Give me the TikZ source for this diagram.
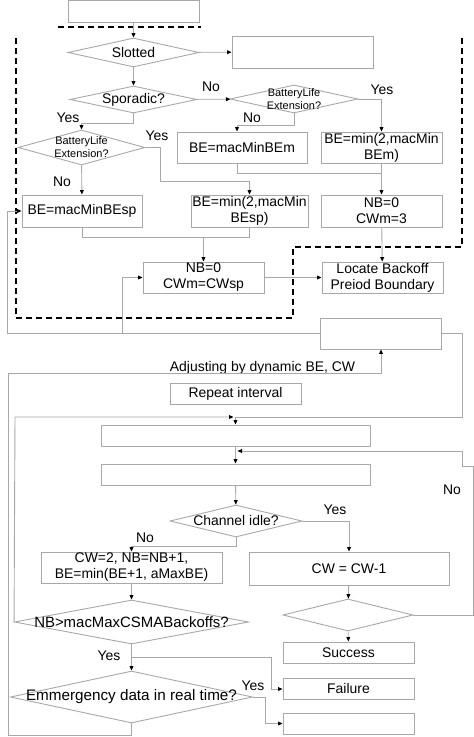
\documentclass[tikz,border=0pt]{standalone}
\usepackage{fontspec}
\setmainfont{Liberation Sans}
\usetikzlibrary{shapes.geometric,arrows.meta}
\definecolor{ln}{RGB}{168,168,168}
\begin{document}
\begin{tikzpicture}[x=1bp,y=-1bp,
  every node/.style={font=\fontsize{14}{16}\selectfont},
  bx/.style={draw=ln, line width=0.9bp, rectangle, inner sep=0pt, align=center},
  dia/.style={draw=ln, line width=0.9bp, diamond, inner sep=0pt},
  cn/.style={draw=ln, line width=0.9bp},
  arr/.style={-{Triangle[length=4.5bp,width=3.8bp,color=black]}},
  dsh/.style={draw=black, line width=1.3bp, dash pattern=on 6bp off 4bp},
  lbl/.style={inner sep=0pt},
  small/.style={font=\fontsize{11}{13}\selectfont, align=center},
  big/.style={font=\fontsize{15.3}{17}\selectfont}
]
\useasboundingbox (0,0) rectangle (474,737);

% dashed frames
\draw[dsh] (58,27) -- (201,27);
\draw[dsh] (16,38) -- (16,318) -- (293,318) -- (293,247) -- (462,247) -- (462,38);

% upper part
\node[bx, minimum width=131bp, minimum height=22bp] (top) at (133.5,11.5) {};
\node[dia, minimum width=131bp, minimum height=29bp, label={center:Slotted}] (slot) at (133.5,52.5) {};
\node[bx, minimum width=141bp, minimum height=32bp] (slotbox) at (302.5,52) {};
\node[dia, minimum width=127bp, minimum height=27bp, label={center:Sporadic?}] (spor) at (133.5,99.5) {};
\node[dia, minimum width=128bp, minimum height=28bp, label={[small]center:BatteryLife\\Extension?}] (bat1) at (294,99) {};
\node[dia, minimum width=127bp, minimum height=35bp, label={[small]center:BatteryLife\\Extension?}] (bat2) at (81.5,147.5) {};
\node[bx, minimum width=130bp, minimum height=31bp] (bem) at (242,147.5) {BE=macMinBEm};
\node[bx, minimum width=121bp, minimum height=31bp] (bemin) at (381.5,147.5) {BE=min(2,macMin\\BEm)};
\node[bx, minimum width=121bp, minimum height=32bp] (nb3) at (381.5,211) {NB=0\\CWm=3};
\node[bx, minimum width=120bp, minimum height=32bp] (besp) at (82,211) {BE=macMinBEsp};
\node[bx, minimum width=117bp, minimum height=32bp] (bespmin) at (249.5,211) {BE=min(2,macMin\\BEsp)};
\node[bx, minimum width=121bp, minimum height=31bp] (nbsp) at (203.5,277.5) {NB=0\\CWm=CWsp};
\node[bx, minimum width=121bp, minimum height=31bp] (locate) at (382.5,277.5) {Locate Backoff\\Preiod Boundary};
\node[bx, minimum width=121bp, minimum height=31bp] (delay) at (380.5,333.5) {};

% labels upper
\node[lbl] (l1) at (211,87) {No};
\node[lbl] (l2) at (382,90) {Yes};
\node[lbl] (l3) at (252,118) {No};
\node[lbl] (l4) at (68,118) {Yes};
\node[lbl] (l5) at (157,136) {Yes};
\node[lbl] (l6) at (62,182) {No};

% connectors upper
\draw[cn,arr] (top) -- (slot);
\draw[cn,arr] (slot) -- (slotbox);
\draw[cn,arr] (slot) -- (spor);
\draw[cn,arr] (spor) -- (bat1);
\draw[cn,arr] (spor.south) -- (133.5,123) -| (bat2.north);
\draw[cn,arr] (bat1.south) -- (294,125) -| ([xshift=-5bp]bem.north);
\draw[cn,arr] (bat1.east) -| (bemin.north);
\draw[cn] ([xshift=-5bp]bem.south) |- (381.5,173);
\draw[cn,arr] (bemin) -- (nb3);
\draw[cn,arr] (bat2) -- (besp);
\draw[cn,arr] (bat2.east) -- (160,147.5) -- (160,181) -| (bespmin.north);
\draw[cn] (besp.south) |- (249.5,237) -- (bespmin.south);
\coordinate (j1) at (203.5,237);
\draw[cn,arr] (j1) -- (nbsp.north);
\draw[cn,arr] (nb3) -- (locate);
\draw[cn,arr] (nbsp) -- (locate);
\draw[cn,arr] (delay.west) -- (7,333.5) -- (7,211) -- (besp.west);
\coordinate (j2) at (122,333.5);
\draw[cn,arr] (j2) -- (122,277.5) -- (nbsp.west);

% lower part
\node[lbl, anchor=base] (adj) at (262.5,371.5) {Adjusting by dynamic BE, CW};
\node[bx, minimum width=131bp, minimum height=21bp] (rep) at (235.5,393.5) {Repeat interval};
\node[bx, minimum width=269bp, minimum height=21bp] (boxa) at (235.5,435.5) {};
\node[bx, minimum width=269bp, minimum height=21bp] (boxb) at (235.5,474.5) {};
\node[dia, minimum width=132bp, minimum height=32bp, label={center:Channel idle?}] (chan) at (236,521) {};
\node[bx, minimum width=200bp, minimum height=33bp] (cw1) at (349,568.5) {CW = CW-1};
\node[bx, minimum width=181bp, minimum height=31bp] (cw2) at (131.5,567.5) {CW=2, NB=NB+1,\\BE=min(BE+1, aMaxBE)};
\node[dia, minimum width=234bp, minimum height=44bp, label={[font=\fontsize{15}{17}\selectfont]center:NB>macMaxCSMABackoffs?}] (nbmax) at (131.5,622) {};
\node[dia, minimum width=130bp, minimum height=32bp] (rdia) at (348,615) {};
\node[bx, minimum width=131bp, minimum height=21bp] (succ) at (348.5,652.5) {Success};
\node[bx, minimum width=131bp, minimum height=21bp] (fail) at (348.5,689) {Failure};
\node[bx, minimum width=131bp, minimum height=21bp] (endb) at (348.5,723.5) {};
\node[dia, minimum width=242bp, minimum height=52bp, label={[big]center:Emmergency data in real time?}] (emm) at (131.5,697) {};

% labels lower
\node[lbl] (l7) at (452,490) {No};
\node[lbl] (l8) at (335,510) {Yes};
\node[lbl] (l9) at (145,538) {No};
\node[lbl] (l10) at (109,656) {Yes};
\node[lbl] (l11) at (253,686) {Yes};

% connectors lower
\draw[cn,arr] (emm.south) -- (131.5,735) -- (8,735) -- (8,373) -- (381,373) -- (delay.south -| 381,0);
\coordinate (j3) at (235.5,417);
\draw[cn] (delay.east) -- (462,333.5) -- (462,417) -- (j3);
\draw[cn,arr] (nbmax.west) -- (15,417) -- (233.5,417);
\draw[cn,arr] (j3) -- (boxa.north);
\draw[cn,arr] (boxa) -- (boxb);
\draw[cn,arr] (rdia.east) -- (473,615) -- (473,466) -- (462,466) -- (462,451) -- (237.5,451);
\draw[cn,arr] (boxb) -- (chan);
\draw[cn,arr] (chan.east) -| (cw1.north);
\draw[cn,arr] (chan.south) -- (236,546) -| (cw2.north);
\draw[cn,arr] (cw2) -- (nbmax);
\draw[cn,arr] (cw1) -- (rdia);
\draw[cn,arr] (rdia) -- (succ);
\draw[cn,arr] (nbmax) -- (emm);
\coordinate (j4) at (131.5,657);
\draw[cn,arr] (j4) -- (271,657) -- (271,689) -- (fail.west);
\draw[cn,arr] (emm.east) -- (265,697) -- (265,723.5) -- (endb.west);
\end{tikzpicture}
\end{document}
